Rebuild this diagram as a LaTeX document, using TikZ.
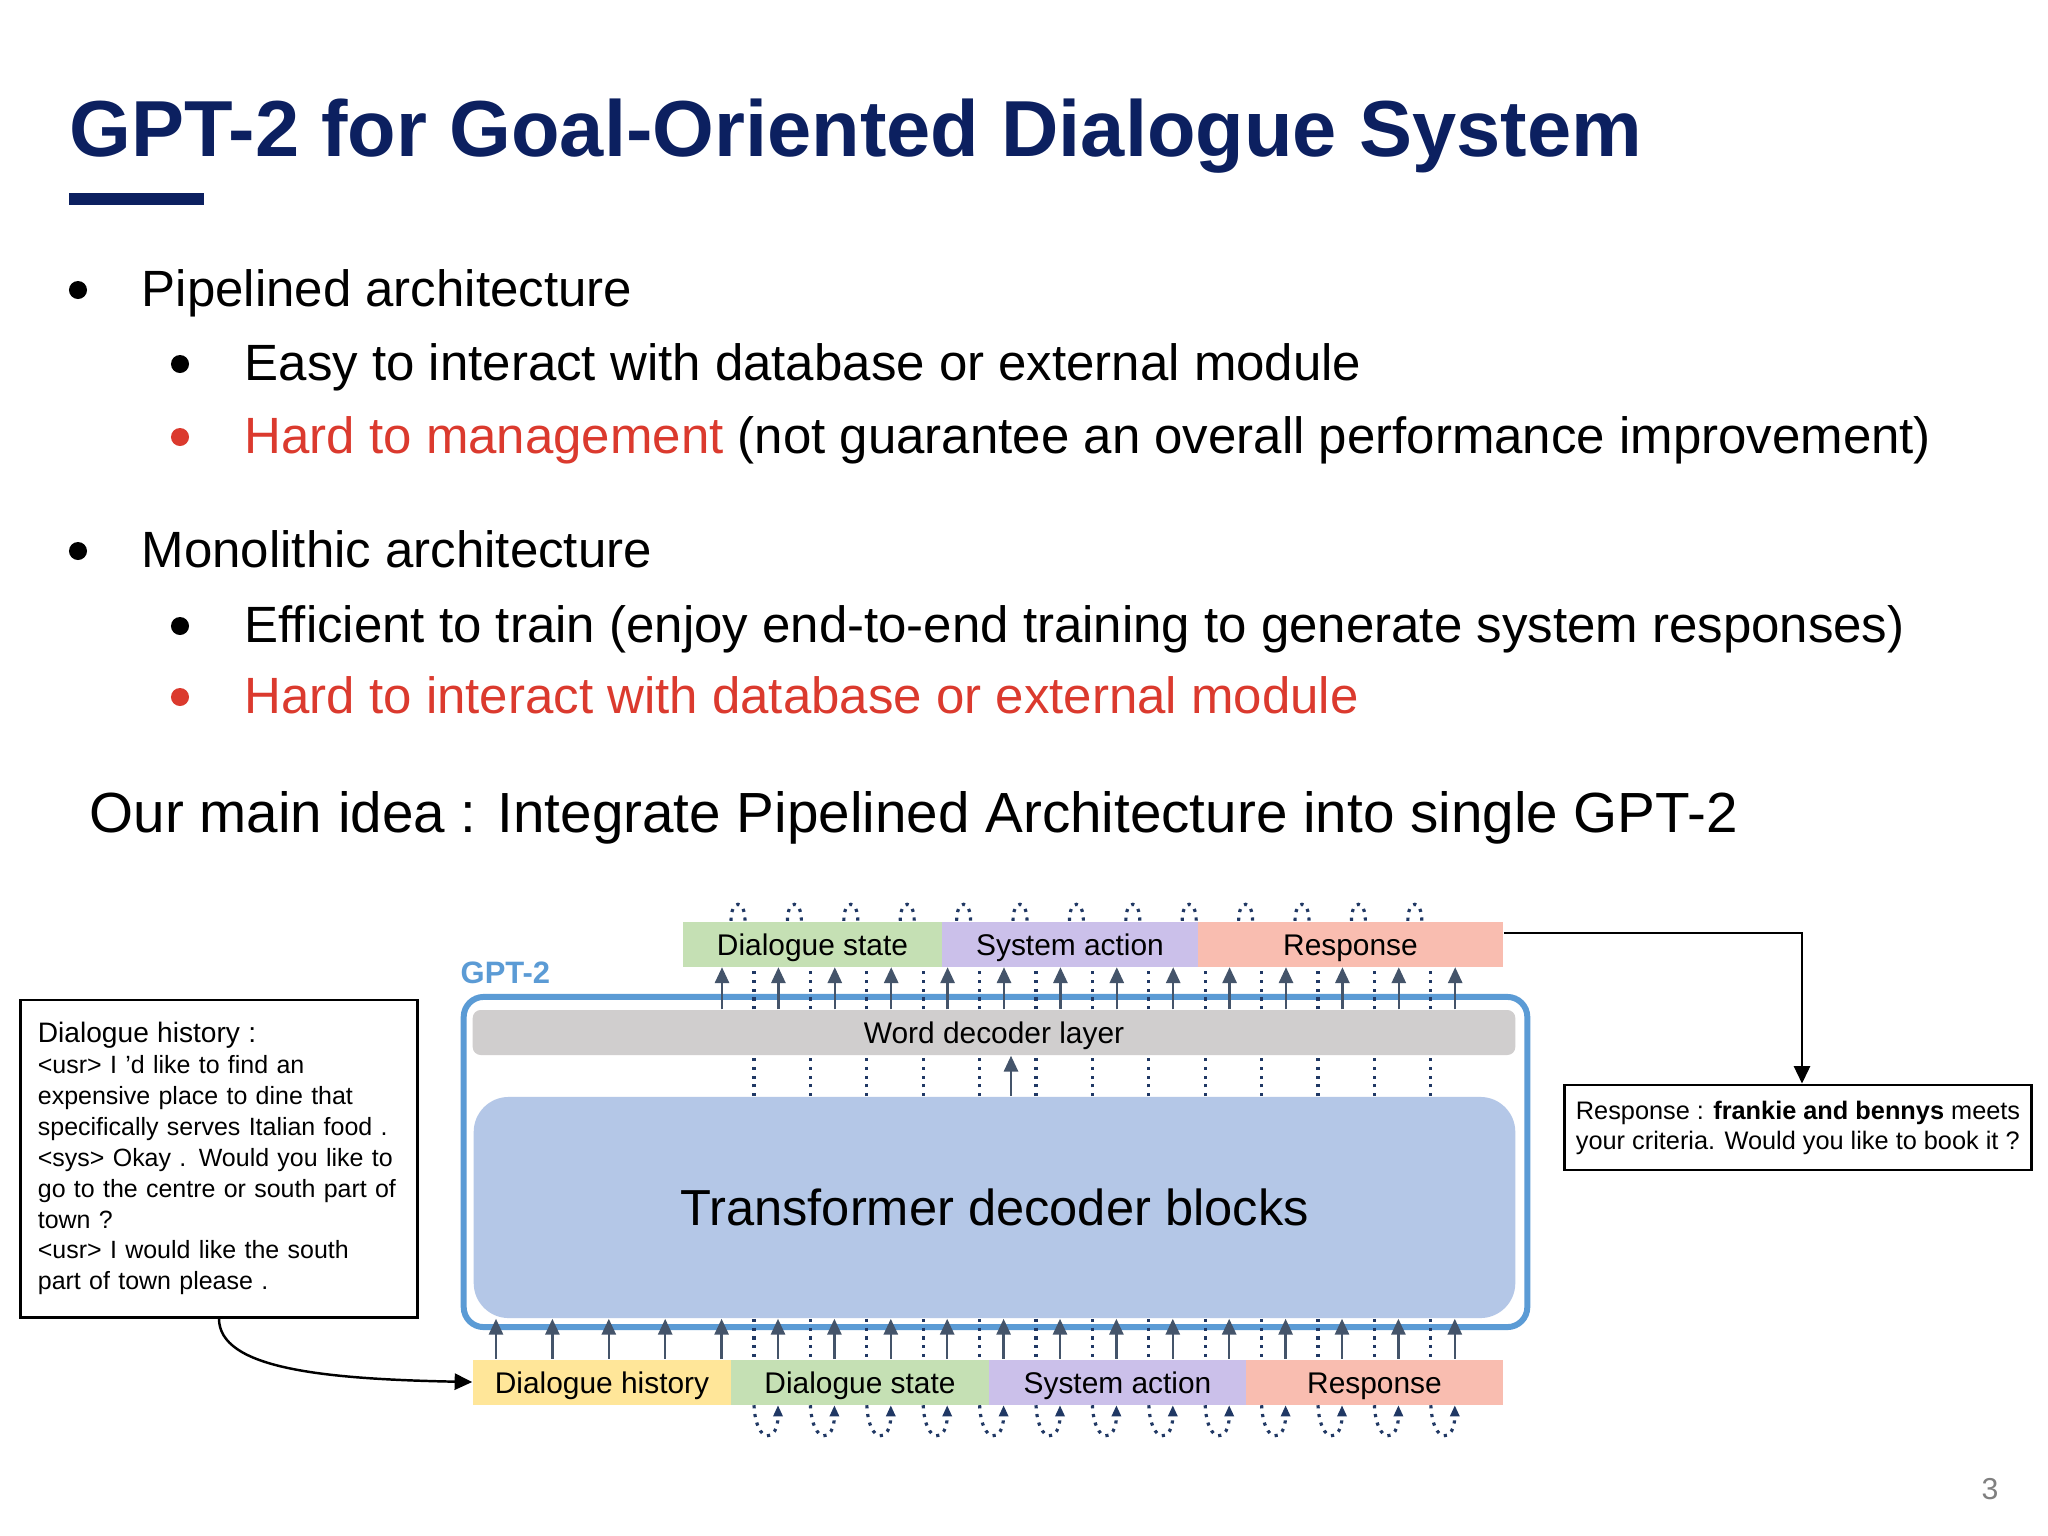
\documentclass[tikz,border=0pt]{standalone}
\usepackage{fontspec}
\setmainfont{Liberation Sans}
\usetikzlibrary{arrows.meta}
\definecolor{titlenavy}{RGB}{12,32,96}
\definecolor{hardred}{RGB}{219,58,46}
\definecolor{greenT}{RGB}{197,224,180}
\definecolor{purpleT}{RGB}{203,192,234}
\definecolor{salmonT}{RGB}{249,189,176}
\definecolor{yellowT}{RGB}{255,230,153}
\definecolor{wdlgray}{RGB}{208,206,206}
\definecolor{tdbblue}{RGB}{180,199,231}
\definecolor{gptblue}{RGB}{91,155,213}
\definecolor{arrgray}{RGB}{68,84,106}
\definecolor{dotnavy}{RGB}{32,56,100}
\definecolor{pagegray}{RGB}{128,128,128}
\begin{document}
\begin{tikzpicture}[x=0.01cm,y=-0.01cm]
            \tikzset{
                bullet/.style={anchor=base west, inner sep=0, font=\fontsize{14.5}{17}\selectfont},
                tok/.style={inner sep=0, minimum height=0.45cm, text height=0.65em, text depth=0pt, font=\fontsize{8.5}{10}\selectfont},
                solidarr/.style={draw=arrgray, line width=0.7pt, -{Triangle[length=4.5pt,width=4pt]}},
                dotline/.style={draw=dotnavy, line width=0.9pt, dash pattern=on 0.9pt off 1.6pt},
                loopline/.style={dotline, -{Triangle[length=3.2pt,width=2.6pt]}},
                flow/.style={draw=black, line width=0.7pt, -{Triangle[length=5pt,width=4.6pt]}},
                textbox/.style={draw, line width=0.8pt, align=left},}
            \fill[white] (0,0) rectangle (2048,1536);
            \useasboundingbox (0,0) rectangle (2048,1536);
            % title
            \node[anchor=base west, inner sep=0, text=titlenavy, font=\bfseries\fontsize{22.6}{27}\selectfont] (title) at (69,156) {GPT-2 for Goal-Oriented Dialogue System};
            \fill[titlenavy] (69,193) rectangle (204,205);
            % bullets
            \fill (78,290) circle (0.09cm);
            \node[bullet] (pipe) at (141,306) {Pipelined architecture};
            \fill (180,364) circle (0.09cm);
            \node[bullet] (easy) at (244,380) {Easy to interact with database or external module};
            \fill[hardred] (180,437) circle (0.09cm);
            \node[bullet] (manage) at (244,453) {\textcolor{hardred}{Hard to management} (not guarantee an overall performance improvement)};
            \fill (78,551) circle (0.09cm);
            \node[bullet] (mono) at (141,567) {Monolithic architecture};
            \fill (180,626) circle (0.09cm);
            \node[bullet] (train) at (244,642) {Efficient to train (enjoy end-to-end training to generate system responses)};
            \fill[hardred] (180,697) circle (0.09cm);
            \node[bullet, text=hardred] (interact) at (244,713) {Hard to interact with database or external module};
            \node[anchor=base west, inner sep=0, font=\fontsize{16.1}{19}\selectfont] (idea) at (89,832) {Our main idea : Integrate Pipelined Architecture into single GPT-2};
            % model
            \node[draw=gptblue, line width=1.7pt, rounded corners=0.2cm, minimum width=10.63cm, minimum height=3.3cm] (gpt) at (995.5,1162) {};
            \node[anchor=base west, inner sep=0, text=gptblue, font=\bfseries\fontsize{8.8}{10}\selectfont] (gptlabel) at (460,983) {GPT-2};
            \node[tok, fill=wdlgray, rounded corners=0.08cm, minimum width=10.42cm] (wdl) at (994,1032.5) {Word decoder layer};
            \node[fill=tdbblue, rounded corners=0.35cm, minimum width=10.41cm, minimum height=2.21cm, text height=1em, text depth=0pt, font=\fontsize{14.4}{17}\selectfont] (tdb) at (994.5,1207.5) {Transformer decoder blocks};
            % output tokens
            \node[tok, fill=greenT, minimum width=2.59cm] (ds1) at (812.5,944) {Dialogue state};
            \node[tok, fill=purpleT, minimum width=2.56cm] (sa1) at (1070,944) {System action};
            \node[tok, fill=salmonT, minimum width=3.05cm] (re1) at (1350.5,944) {Response};
            % input tokens
            \node[tok, fill=yellowT, minimum width=2.58cm] (dh0) at (602,1382) {Dialogue history};
            \node[tok, fill=greenT, minimum width=2.58cm] (ds0) at (860,1382) {Dialogue state};
            \node[tok, fill=purpleT, minimum width=2.57cm] (sa0) at (1117.5,1382) {System action};
            \node[tok, fill=salmonT, minimum width=2.57cm] (re0) at (1374.5,1382) {Response};
            % arrows into and out of the model
            \foreach \k in {0,...,17}{
                \pgfmathsetmacro\xa{496+56.4*\k}
                \draw[solidarr] (\xa,0 |- dh0.north) -- (\xa,0 |- tdb.south);}
            \foreach \k in {0,...,13}{
                \pgfmathsetmacro\xa{722+56.4*\k}
                \draw[solidarr] (\xa,0 |- wdl.north) -- (\xa,0 |- ds1.south);}
            \draw[solidarr] (1011,0 |- tdb.north) -- (1011,0 |- wdl.south);
            \foreach \j in {0,...,12}{
                \pgfmathsetmacro\xd{754+56.4*\j}
                \pgfmathsetmacro\xb{778+56.4*\j}
                \pgfmathsetmacro\cl{731+56.4*\j}
                \pgfmathsetmacro\cr{745+56.4*\j}
                \draw[dotline] (\xd,0 |- wdl.north) -- (\xd,0 |- ds1.south);
                \draw[dotline] (\xd,0 |- tdb.north) -- (\xd,0 |- wdl.south);
                \draw[dotline] (\xd,0 |- tdb.south) -- (\xd,0 |- dh0.north);
                \draw[loopline] (\xd,0 |- dh0.south) .. controls +(2,40) and +(0,38) .. (\xb,0 |- dh0.south);
                \draw[dotline] (\cl,0 |- ds1.north) .. controls +(0,-22) and +(0,-22) .. (\cr,0 |- ds1.north);}
            % examples
            \node[textbox, minimum width=3.96cm, minimum height=3.17cm, text width=3.62cm, inner xsep=0.17cm, font=\fontsize{7.1}{8.8}\selectfont] (histbox) at (219,1158.5) {{\fontsize{8}{8.8}\selectfont Dialogue history :}\\
                \textless{}usr\textgreater{} I ’d like to find an\\
                expensive place to dine that\\
                specifically serves Italian food .\\
                \textless{}sys\textgreater{} Okay . Would you like to\\
                go to the centre or south part of\\
                town ?\\
                \textless{}usr\textgreater{} I would like the south\\
                part of town please .};
            \node[textbox, minimum width=4.62cm, minimum height=0.85cm, font=\fontsize{7.2}{8.5}\selectfont] (respbox) at (1798,1127.5) {Response : \textbf{frankie and bennys} meets\\
                your criteria. Would you like to book it ?};
            \draw[flow] (histbox.south) .. controls +(0,50) and +(-150,-3) .. (dh0.west);
            \draw[flow] ([yshift=0.11cm]re1.east) -| ([xshift=0.04cm]respbox.north);
            \node[text=pagegray, font=\fontsize{8.6}{10}\selectfont] (pagenum) at (1990,1489) {3};
        \end{tikzpicture}
\end{document}
